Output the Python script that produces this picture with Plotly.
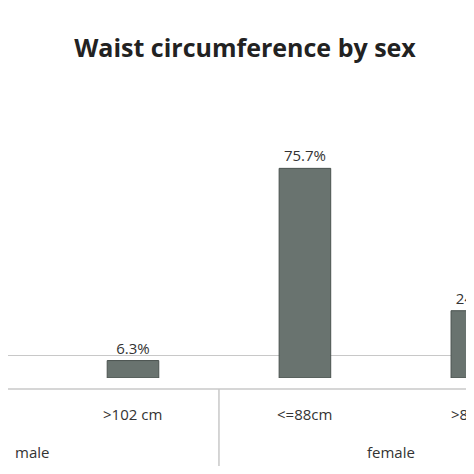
import plotly.graph_objects as go

categories = ["<=102 cm", ">102 cm", "<=88cm", ">88 cm"]
groups = ["male", "female"]
values = [93.7, 6.3, 75.7, 24.3]
labels = ["93.7%", "6.3%", "75.7%", "24.3%"]
xpos = [0, 1, 2, 3]

fig = go.Figure(go.Bar(
    x=xpos, y=values, width=0.3,
    marker=dict(color="#69736f", line=dict(color="#4a524f", width=1)),
    text=labels, textposition="outside", cliponaxis=True,
    textfont=dict(size=15, color="#333"),
))

fig.update_layout(
    width=474, height=474, margin=dict(l=0, r=0, t=100, b=104, autoexpand=False),
    paper_bgcolor="white", plot_bgcolor="white", showlegend=False,
    title=dict(text="<b>Waist circumference by sex</b>", x=0.5, y=0.915,
               xanchor="center", yanchor="middle",
               font=dict(size=25, color="#222", family="Open Sans")),
    xaxis=dict(range=[0.273, 3.03], showticklabels=False, showgrid=False, zeroline=False),
    yaxis=dict(range=[0, 97.5], tickvals=[8], showticklabels=False,
               gridcolor="#c8c8c8", zeroline=False),
    font=dict(family="Open Sans"),
)
for x, c in zip(xpos, categories):
    fig.add_annotation(x=x, xref="x", y=-0.133, yref="paper", yanchor="middle",
                       text=c, showarrow=False, font=dict(size=15, color="#333"))
fig.add_annotation(x=0.3, xref="x", y=-0.274, yref="paper", yanchor="middle", text=groups[0],
                   showarrow=False, xanchor="left", font=dict(size=15, color="#333"))
fig.add_annotation(x=2.5, xref="x", y=-0.274, yref="paper", yanchor="middle", text=groups[1],
                   showarrow=False, font=dict(size=15, color="#333"))
fig.add_shape(type="line", xref="paper", yref="paper", x0=0, x1=1, y0=-0.041, y1=-0.041,
              line=dict(color="#c8c8c8", width=1.5))
fig.add_shape(type="line", xref="paper", yref="paper", x0=0, x1=1, y0=-0.37, y1=-0.37,
              line=dict(color="#c8c8c8", width=1.5))
fig.add_shape(type="line", xref="x", yref="paper", x0=1.5, x1=1.5, y0=-0.041, y1=-0.326,
              line=dict(color="#c8c8c8", width=1.5))
fig.write_html("out.html")
